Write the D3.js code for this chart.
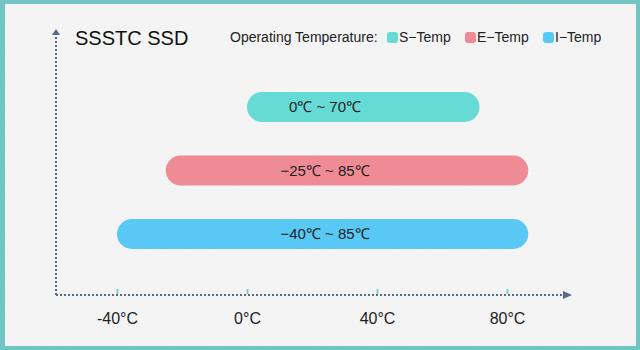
<!DOCTYPE html>
<html>
<head>
<meta charset="utf-8">
<script src="https://cdn.jsdelivr.net/npm/d3@7"></script>
<style>
  html, body { margin: 0; padding: 0; background: #f3f3f3; }
  svg { display: block; font-family: "Liberation Sans", Arial, sans-serif; }
</style>
</head>
<body>
<div id="chart"></div>
<script>
// data
var series = ["S-Temp", "E-Temp", "I-Temp"];
var legendNames = ["S\u2212Temp", "E\u2212Temp", "I\u2212Temp"];
var lows = [0, -25, -40];
var highs = [70, 85, 85];
var rangeLabels = ["0\u2103 ~ 70\u2103", "\u221225\u2103 ~ 85\u2103", "\u221240\u2103 ~ 85\u2103"];
var tickValues = [-40, 0, 40, 80];
var tickLabels = ["-40\u00b0C", "0\u00b0C", "40\u00b0C", "80\u00b0C"];
var colors = ["#66dad5", "#ee8b95", "#5ac8f4"];

var width = 640, height = 350;
var axisColor = "#566b8c";
var originX = 56, originY = 295;

var svg = d3.select("#chart").append("svg")
  .attr("width", width)
  .attr("height", height);

// paper texture
var defs = svg.append("defs");
var noise = defs.append("filter").attr("id", "noise");
noise.append("feTurbulence")
  .attr("type", "fractalNoise").attr("baseFrequency", 0.9).attr("numOctaves", 2).attr("result", "t");
noise.append("feColorMatrix")
  .attr("type", "matrix")
  .attr("values", "0 0 0 0 0.6  0 0 0 0 0.6  0 0 0 0 0.6  0 0 0 0.07 0");

// frame
svg.append("rect").attr("width", width).attr("height", height).attr("fill", "#6ec6c4");
svg.append("rect").attr("x", 5).attr("y", 4).attr("width", 631).attr("height", 342).attr("fill", "#f5f5f5");
svg.append("rect").attr("width", width).attr("height", height).attr("filter", "url(#noise)");

var x = d3.scaleLinear().domain([-40, 80]).range([117, 507]);
var y = d3.scaleBand().domain(series).range([73, 268]).paddingInner(0.53).paddingOuter(0.3);

// axes
svg.append("line")
  .attr("x1", originX).attr("x2", originX)
  .attr("y1", originY).attr("y2", 36)
  .attr("stroke", axisColor).attr("stroke-width", 2)
  .attr("stroke-dasharray", "2,2");
svg.append("path")
  .attr("d", "M" + (originX - 4) + ",35 L" + originX + ",29 L" + (originX + 4) + ",35 Z")
  .attr("fill", axisColor);

svg.append("line")
  .attr("x1", originX).attr("x2", 564)
  .attr("y1", originY).attr("y2", originY)
  .attr("stroke", axisColor).attr("stroke-width", 2)
  .attr("stroke-dasharray", "2,2");
svg.append("path")
  .attr("d", "M563," + (originY - 4) + " L572," + originY + " L563," + (originY + 4) + " Z")
  .attr("fill", axisColor);

var xAxis = d3.axisBottom(x)
  .tickValues(tickValues)
  .tickSize(0)
  .tickPadding(18)
  .tickFormat(function(d, i) { return tickLabels[i]; });

var gx = svg.append("g")
  .attr("transform", "translate(0," + originY + ")")
  .call(xAxis);
gx.select(".domain").remove();
gx.selectAll("text")
  .attr("fill", "#222")
  .style("font-size", "16px")
  .style("font-family", "'Liberation Sans', Arial, sans-serif");
gx.selectAll(".tick").append("line")
  .attr("y1", -6).attr("y2", -1)
  .attr("stroke", "#7fcfc8").attr("stroke-width", 2);

// bars
svg.selectAll("rect.bar")
  .data(series)
  .enter().append("rect")
  .attr("class", "bar")
  .attr("x", function(d, i) { return x(lows[i]); })
  .attr("y", function(d) { return y(d); })
  .attr("width", function(d, i) { return x(highs[i]) - x(lows[i]) + 5; })
  .attr("height", y.bandwidth())
  .attr("rx", y.bandwidth() / 2)
  .attr("fill", function(d, i) { return colors[i]; });

svg.selectAll("text.range")
  .data(series)
  .enter().append("text")
  .attr("class", "range")
  .attr("x", x(24))
  .attr("y", function(d) { return y(d) + y.bandwidth() / 2 + 5; })
  .attr("text-anchor", "middle")
  .attr("fill", "#222")
  .style("font-size", "15px")
  .text(function(d, i) { return rangeLabels[i]; });

// title
svg.append("text")
  .attr("x", 75).attr("y", 45)
  .attr("fill", "#111")
  .style("font-size", "20px")
  .text("SSSTC SSD");

// legend
svg.append("text")
  .attr("x", 230).attr("y", 42)
  .attr("fill", "#222")
  .style("font-size", "14px")
  .text("Operating Temperature:");

var legendX = [387, 465, 543];
var lg = svg.selectAll("g.legend")
  .data(series)
  .enter().append("g")
  .attr("class", "legend")
  .attr("transform", function(d, i) { return "translate(" + legendX[i] + ",32)"; });
lg.append("rect")
  .attr("width", 11).attr("height", 11).attr("rx", 3)
  .attr("fill", function(d, i) { return colors[i]; });
lg.append("text")
  .attr("x", 12).attr("y", 10)
  .attr("fill", "#222")
  .style("font-size", "14px")
  .text(function(d, i) { return legendNames[i]; });
</script>
</body>
</html>
